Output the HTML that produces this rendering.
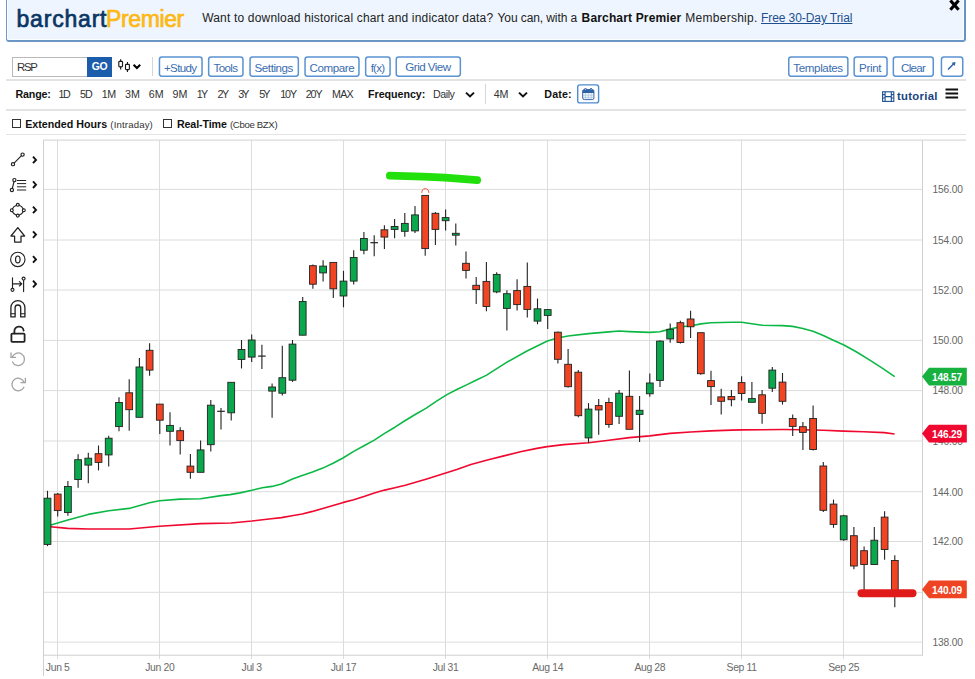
<!DOCTYPE html>
<html>
<head>
<meta charset="utf-8">
<title>RSP chart</title>
<style>
*{box-sizing:border-box;margin:0;padding:0}
html,body{width:975px;height:679px;overflow:hidden;background:#fff;font-family:"Liberation Sans",sans-serif;color:#222}
.abs{position:absolute}
.t{position:absolute;line-height:1;white-space:nowrap}
#banner{left:5.6px;top:-6px;width:960.6px;height:48px;background:#eef5fe;border:1px solid #6f99c6;border-right:2px solid #6593c3;border-bottom:2px solid #6a97c5;border-radius:3px;box-shadow:inset 0 0 0 1px #fbfdff}
#logo{left:16.5px;top:4.6px;font-size:23px;font-weight:normal;white-space:nowrap;line-height:28px}
#logo .b{color:#0b3664;letter-spacing:0.8px;-webkit-text-stroke:0.7px #0b3664}
#logo .p{color:#fdb813;letter-spacing:-0.38px;margin-left:-1.3px;-webkit-text-stroke:0.7px #fdb813}
.btn{position:absolute;top:56.5px;height:20px;border:1px solid #5e92cd;border-radius:3px;background:#fff}
.hl{position:absolute;left:6px;width:960px;height:2px;background:#e3e3e3}
.cb{position:absolute;width:8.6px;height:8.6px;border:1px solid #333;background:#fff;top:119px}
</style>
</head>
<body>
<div class="abs" id="banner"></div>
<div class="abs" id="logo"><span class="b">barchart</span><span class="p">Premier</span></div>
<svg class="abs" style="left:947px;top:0px" width="16" height="13" viewBox="0 0 16 13"><path d="M3.4,0.4 L11.6,9.8 M11.6,0.4 L3.4,9.8" stroke="#000" stroke-width="3.1" fill="none"/></svg>

<!-- toolbar row 1 -->
<div class="abs" style="left:12px;top:56.5px;width:76px;height:20px;border:1px solid #b9b9b9;border-right:none;background:#fff"></div>
<div class="abs" style="left:87.2px;top:56.5px;width:24.8px;height:20px;background:#1b5cab"></div>
<svg class="abs" style="left:117px;top:57px" width="26" height="18" viewBox="0 0 26 18">
 <g fill="none" stroke="#1a1a1a" stroke-width="1.15">
  <rect x="1.8" y="4.3" width="3.7" height="5.5" rx=".8"/><path d="M3.65,2.2 V4.3 M3.65,9.8 V12.4"/>
  <rect x="8.5" y="7.4" width="3.9" height="5.2" rx=".8"/><path d="M10.45,5 V7.4 M10.45,12.6 V15"/>
  <path d="M16.6,7.7 L19.9,11 L23.2,7.7" stroke="#000" stroke-width="2"/>
 </g>
</svg>
<div class="abs" style="left:152px;top:57px;width:1px;height:19px;background:#d6d6d6"></div>
<div class="btn" style="left:940.6px;width:22.8px;border:none;background:none"><svg width="12" height="12" viewBox="0 0 12 12" style="position:absolute;left:4.5px;top:3px"><path d="M3,9.5 L9,3.5" stroke="#2a5fa8" stroke-width="1.5" fill="none"/><path d="M10.5,2 L6.6,2.7 L9.8,5.9 Z" fill="#2a5fa8"/></svg></div>
<div class="hl" style="top:78.9px"></div>

<!-- range row -->
<svg class="abs" style="left:464px;top:90px" width="12" height="10" viewBox="0 0 12 10"><path d="M2,2.6 L6,6.4 L10,2.6" stroke="#111" stroke-width="2" fill="none"/></svg>
<div class="abs" style="left:485px;top:84px;width:1px;height:20px;background:#d6d6d6"></div>
<svg class="abs" style="left:516.6px;top:90px" width="12" height="10" viewBox="0 0 12 10"><path d="M2,2.6 L6,6.4 L10,2.6" stroke="#111" stroke-width="2" fill="none"/></svg>
<div class="abs" style="left:577px;top:84px;width:22.3px;height:19.8px;border:1px solid transparent;background:none">
 <svg width="13" height="14" viewBox="0 0 13 14" style="position:absolute;left:4.2px;top:1.8px"><rect x="0.7" y="2.6" width="11.2" height="10" rx="1.6" fill="#f3f7fc" stroke="#2e62a6" stroke-width="1"/><path d="M0.7,6 V4.2 Q0.7,2.6 2.3,2.6 H10.3 Q11.9,2.6 11.9,4.2 V6 Z" fill="#2e62a6"/><path d="M3.4,6 V12.4 M6.3,6 V12.4 M9.2,6 V12.4 M1,8.2 H11.6 M1,10.4 H11.6" stroke="#a9c0de" stroke-width=".7" fill="none"/><path d="M3.5,0.9 V3.4 M9.1,0.9 V3.4" stroke="#2e62a6" stroke-width="1.9" fill="none"/><path d="M3.5,1.6 V3 M9.1,1.6 V3" stroke="#dfe8f4" stroke-width=".7" fill="none"/></svg>
</div>
<svg class="abs" style="left:882px;top:91px" width="13" height="12" viewBox="0 0 13 12"><g fill="none" stroke="#1d4f91" stroke-width="1.1"><rect x="0.6" y="0.8" width="11.2" height="9.6"/><path d="M3.1,0.8 V10.4 M9.3,0.8 V10.4 M3.1,5.6 H9.3 M0.6,3.6 H3.1 M0.6,7 H3.1 M9.3,3.6 H11.8 M9.3,7 H11.8"/></g></svg>
<svg class="abs" style="left:945px;top:87px" width="14" height="13" viewBox="0 0 14 13"><path d="M0.5,2.6 H13.1 M0.5,6.6 H13.1 M0.5,10.5 H13.1" stroke="#111" stroke-width="2"/></svg>
<div class="hl" style="top:108.6px"></div>

<!-- checkbox row -->
<div class="cb" style="left:12.2px"></div>
<div class="cb" style="left:163.4px"></div>
<div class="hl" style="top:133.8px;height:1.6px"></div>

<div class="t" style="left:202.20px;top:11.94px;font-size:12px;font-weight:normal;color:#222;letter-spacing:0.176px;">Want to download historical chart and indicator data?</div>
<div class="t" style="left:497.50px;top:11.94px;font-size:12px;font-weight:normal;color:#222;letter-spacing:-0.091px;">You can, with a</div>
<div class="t" style="left:581.60px;top:11.94px;font-size:12px;font-weight:bold;color:#111;letter-spacing:0.152px;">Barchart Premier</div>
<div class="t" style="left:685.30px;top:11.94px;font-size:12px;font-weight:normal;color:#222;letter-spacing:0.268px;">Membership.</div>
<div class="t" style="left:761.00px;top:11.94px;font-size:12px;font-weight:normal;color:#1d4f91;letter-spacing:-0.078px;text-decoration:underline">Free 30-Day Trial</div>
<div class="t" style="left:17.10px;top:62.25px;font-size:11.4px;font-weight:normal;color:#333;letter-spacing:-1.362px;">RSP</div>
<div class="t" style="left:91.70px;top:62.40px;font-size:10.4px;font-weight:bold;color:#fff;letter-spacing:-0.282px;">GO</div>
<div class="t" style="left:164.00px;top:62.08px;font-size:11.6px;font-weight:normal;color:#3a6db0;letter-spacing:-0.684px;">+Study</div>
<div class="t" style="left:213.60px;top:62.08px;font-size:11.6px;font-weight:normal;color:#3a6db0;letter-spacing:-0.667px;">Tools</div>
<div class="t" style="left:254.60px;top:62.08px;font-size:11.6px;font-weight:normal;color:#3a6db0;letter-spacing:-0.456px;">Settings</div>
<div class="t" style="left:309.60px;top:62.08px;font-size:11.6px;font-weight:normal;color:#3a6db0;letter-spacing:-0.422px;">Compare</div>
<div class="t" style="left:370.70px;top:62.08px;font-size:11.6px;font-weight:normal;color:#3a6db0;letter-spacing:-0.793px;">f(x)</div>
<div class="t" style="left:405.30px;top:60.88px;font-size:11.6px;font-weight:normal;color:#3a6db0;letter-spacing:-0.521px;">Grid View</div>
<div class="t" style="left:793.30px;top:62.08px;font-size:11.6px;font-weight:normal;color:#3a6db0;letter-spacing:-0.380px;">Templates</div>
<div class="t" style="left:859.10px;top:62.08px;font-size:11.6px;font-weight:normal;color:#3a6db0;letter-spacing:-0.354px;">Print</div>
<div class="t" style="left:901.10px;top:62.08px;font-size:11.6px;font-weight:normal;color:#3a6db0;letter-spacing:-0.736px;">Clear</div>
<div class="t" style="left:15.60px;top:89.14px;font-size:10.7px;font-weight:bold;color:#111;letter-spacing:-0.193px;">Range:</div>
<div class="t" style="left:58.50px;top:89.14px;font-size:10.7px;font-weight:normal;color:#333;letter-spacing:-1.344px;">1D</div>
<div class="t" style="left:79.90px;top:89.14px;font-size:10.7px;font-weight:normal;color:#333;letter-spacing:-0.844px;">5D</div>
<div class="t" style="left:101.80px;top:89.14px;font-size:10.7px;font-weight:normal;color:#333;letter-spacing:-0.444px;">1M</div>
<div class="t" style="left:125.10px;top:89.14px;font-size:10.7px;font-weight:normal;color:#333;letter-spacing:-0.044px;">3M</div>
<div class="t" style="left:148.70px;top:89.14px;font-size:10.7px;font-weight:normal;color:#333;letter-spacing:0.156px;">6M</div>
<div class="t" style="left:172.60px;top:89.14px;font-size:10.7px;font-weight:normal;color:#333;letter-spacing:-0.144px;">9M</div>
<div class="t" style="left:196.70px;top:89.14px;font-size:10.7px;font-weight:normal;color:#333;letter-spacing:-1.644px;">1Y</div>
<div class="t" style="left:217.60px;top:89.14px;font-size:10.7px;font-weight:normal;color:#333;letter-spacing:-1.444px;">2Y</div>
<div class="t" style="left:238.20px;top:89.14px;font-size:10.7px;font-weight:normal;color:#333;letter-spacing:-1.844px;">3Y</div>
<div class="t" style="left:259.30px;top:89.14px;font-size:10.7px;font-weight:normal;color:#333;letter-spacing:-2.044px;">5Y</div>
<div class="t" style="left:280.20px;top:89.14px;font-size:10.7px;font-weight:normal;color:#333;letter-spacing:-1.044px;">10Y</div>
<div class="t" style="left:305.80px;top:89.14px;font-size:10.7px;font-weight:normal;color:#333;letter-spacing:-1.144px;">20Y</div>
<div class="t" style="left:332.00px;top:89.14px;font-size:10.7px;font-weight:normal;color:#333;letter-spacing:-0.716px;">MAX</div>
<div class="t" style="left:368.10px;top:89.14px;font-size:10.7px;font-weight:bold;color:#111;letter-spacing:-0.050px;">Frequency:</div>
<div class="t" style="left:433.00px;top:89.14px;font-size:10.7px;font-weight:normal;color:#333;letter-spacing:-0.453px;">Daily</div>
<div class="t" style="left:493.80px;top:89.14px;font-size:10.7px;font-weight:normal;color:#333;letter-spacing:-0.344px;">4M</div>
<div class="t" style="left:544.30px;top:89.14px;font-size:10.7px;font-weight:bold;color:#111;letter-spacing:0.134px;">Date:</div>
<div class="t" style="left:897.00px;top:91.23px;font-size:11.3px;font-weight:bold;color:#17457f;letter-spacing:0.308px;">tutorial</div>
<div class="t" style="left:25.20px;top:118.64px;font-size:10.7px;font-weight:bold;color:#111;letter-spacing:-0.001px;">Extended Hours</div>
<div class="t" style="left:110.30px;top:119.57px;font-size:9.6px;font-weight:normal;color:#333;letter-spacing:0.160px;">(Intraday)</div>
<div class="t" style="left:176.90px;top:118.64px;font-size:10.7px;font-weight:bold;color:#111;letter-spacing:-0.118px;">Real-Time</div>
<div class="t" style="left:230.00px;top:119.57px;font-size:9.6px;font-weight:normal;color:#333;letter-spacing:-0.339px;">(Cboe BZX)</div>

<!-- left tools -->
<svg class="abs" style="left:0;top:140px" width="44" height="260" viewBox="0 140 44 260">
<g fill="none" stroke="#222" stroke-width="1.15" stroke-linecap="round" stroke-linejoin="round">
 <!-- 1 line -->
 <path d="M14.1,163.1 L21.5,155.7"/><circle cx="13" cy="164.2" r="1.6" fill="#fff"/><circle cx="22.6" cy="154.6" r="1.6" fill="#fff"/>
 <!-- 2 fib-like -->
 <path d="M14,181.6 L12.3,188.5"/><circle cx="14.4" cy="180.1" r="1.6" fill="#fff"/><circle cx="11.9" cy="190" r="1.6" fill="#fff"/>
 <path d="M17.4,180.5 H25.8 M17.4,183.6 H25.8 M17.4,186.8 H25.8 M17.4,190 H25.8" stroke-width="1"/>
 <!-- 3 diamond -->
 <path d="M12.3,208.9 Q13.6,206 16.5,205.2 M19.1,205.2 Q22,206 23.3,208.9 M23.3,211.5 Q22,214.4 19.1,215.2 M16.5,215.2 Q13.6,214.4 12.3,211.5"/>
 <circle cx="17.8" cy="204.8" r="1.45"/><circle cx="23.8" cy="210.2" r="1.45"/><circle cx="17.8" cy="215.6" r="1.45"/><circle cx="11.8" cy="210.2" r="1.45"/>
 <!-- 4 arrow -->
 <path d="M17.8,227.6 L24.6,236 H21 V242 H14.6 V236 H11 Z" stroke-width="1.25"/>
 <!-- 5 circle 0 -->
 <circle cx="17.8" cy="259.4" r="7.2"/>
 <ellipse cx="17.8" cy="259.4" rx="2.3" ry="3.4" stroke-width="1.15"/>
 <!-- 6 measure -->
 <path d="M12.5,277.7 V288.2 M23.6,280.2 V291.6 M12.5,283.8 H21.8 M19.4,281.6 L21.8,283.8 L19.4,286"/>
 <circle cx="12.5" cy="289.8" r="1.5" fill="#fff"/><circle cx="23.6" cy="278.6" r="1.5" fill="#fff"/>
 <!-- 7 magnet -->
 <path d="M10.9,316.9 V307.6 A7,7 0 0 1 24.9,307.6 V316.9 H20.7 V307.8 A2.8,2.8 0 0 0 15.1,307.8 V316.9 Z" stroke-width="1.3"/>
 <path d="M10.9,313.7 H15.1 M20.7,313.7 H24.9" stroke-width="1.1"/>
 <!-- 8 lock -->
 <rect x="11.4" y="333.6" width="13.2" height="8.2" rx="0.8" stroke-width="1.8"/>
 <path d="M14.4,333.4 V331.2 A4.6,4.2 0 0 1 23.6,330.6" stroke-width="1.8"/>
</g>
<g fill="none" stroke="#111" stroke-width="1.9" stroke-linecap="butt" stroke-linejoin="miter">
 <path d="M33,156.6 L36,159.9 L33,163.2"/>
 <path d="M33,181.4 L36,184.7 L33,188"/>
 <path d="M33,206.6 L36,209.9 L33,213.2"/>
 <path d="M33,231.3 L36,234.6 L33,237.9"/>
 <path d="M33,256.1 L36,259.4 L33,262.7"/>
 <path d="M33,280.7 L36,284 L33,287.3"/>
</g>
<g fill="none" stroke="#a2a2a2" stroke-width="1.3" stroke-linecap="round" stroke-linejoin="round">
 <!-- undo -->
 <path d="M12.2,357.2 A6.3,6.3 0 1 1 12.5,362"/><path d="M11,353 V357.4 H15.4"/>
 <!-- redo -->
 <path d="M24.2,382.5 A6.3,6.3 0 1 0 23.9,387.3"/><path d="M25.4,378.3 V382.7 H21"/>
</g>
</svg>


<svg class="abs" style="left:0;top:0;font-family:'Liberation Sans',sans-serif" width="975" height="679" viewBox="0 0 975 679">
<line x1="57.5" y1="140" x2="57.5" y2="659" stroke="#dcdcdc" stroke-width="1"/>
<line x1="159.5" y1="140" x2="159.5" y2="659" stroke="#dcdcdc" stroke-width="1"/>
<line x1="251.5" y1="140" x2="251.5" y2="659" stroke="#dcdcdc" stroke-width="1"/>
<line x1="343.5" y1="140" x2="343.5" y2="659" stroke="#dcdcdc" stroke-width="1"/>
<line x1="445.5" y1="140" x2="445.5" y2="659" stroke="#dcdcdc" stroke-width="1"/>
<line x1="547.5" y1="140" x2="547.5" y2="659" stroke="#dcdcdc" stroke-width="1"/>
<line x1="649.5" y1="140" x2="649.5" y2="659" stroke="#dcdcdc" stroke-width="1"/>
<line x1="741.5" y1="140" x2="741.5" y2="659" stroke="#dcdcdc" stroke-width="1"/>
<line x1="843.5" y1="140" x2="843.5" y2="659" stroke="#dcdcdc" stroke-width="1"/>
<line x1="44" y1="642.1" x2="922" y2="642.1" stroke="#dcdcdc" stroke-width="1"/>
<line x1="44" y1="592.3" x2="922" y2="592.3" stroke="#dcdcdc" stroke-width="1"/>
<line x1="44" y1="541.5" x2="922" y2="541.5" stroke="#dcdcdc" stroke-width="1"/>
<line x1="44" y1="491.7" x2="922" y2="491.7" stroke="#dcdcdc" stroke-width="1"/>
<line x1="44" y1="441.0" x2="922" y2="441.0" stroke="#dcdcdc" stroke-width="1"/>
<line x1="44" y1="390.6" x2="922" y2="390.6" stroke="#dcdcdc" stroke-width="1"/>
<line x1="44" y1="340.4" x2="922" y2="340.4" stroke="#dcdcdc" stroke-width="1"/>
<line x1="44" y1="290.0" x2="922" y2="290.0" stroke="#dcdcdc" stroke-width="1"/>
<line x1="44" y1="240.0" x2="922" y2="240.0" stroke="#dcdcdc" stroke-width="1"/>
<line x1="44" y1="189.4" x2="922" y2="189.4" stroke="#dcdcdc" stroke-width="1"/>
<rect x="159.45" y="57.1" width="42.60" height="19.1" rx="2.4" fill="none" stroke="#5a92d2" stroke-width="1.5"/>
<rect x="208.65" y="57.1" width="34.30" height="19.1" rx="2.4" fill="none" stroke="#5a92d2" stroke-width="1.5"/>
<rect x="250.05" y="57.1" width="48.30" height="19.1" rx="2.4" fill="none" stroke="#5a92d2" stroke-width="1.5"/>
<rect x="305.05" y="57.1" width="53.90" height="19.1" rx="2.4" fill="none" stroke="#5a92d2" stroke-width="1.5"/>
<rect x="365.65" y="57.1" width="24.40" height="19.1" rx="2.4" fill="none" stroke="#5a92d2" stroke-width="1.5"/>
<rect x="396.25" y="57.1" width="64.10" height="19.1" rx="2.4" fill="none" stroke="#5a92d2" stroke-width="1.5"/>
<rect x="788.75" y="57.1" width="59.10" height="19.1" rx="2.4" fill="none" stroke="#5a92d2" stroke-width="1.5"/>
<rect x="854.15" y="57.1" width="32.90" height="19.1" rx="2.4" fill="none" stroke="#5a92d2" stroke-width="1.5"/>
<rect x="893.35" y="57.1" width="39.90" height="19.1" rx="2.4" fill="none" stroke="#5a92d2" stroke-width="1.5"/>
<rect x="941.45" y="57.1" width="21.30" height="19.1" rx="2.4" fill="none" stroke="#5a92d2" stroke-width="1.5"/>
<rect x="577.7" y="84.9" width="20.9" height="18" rx="2.2" fill="none" stroke="#4f8bd0" stroke-width="1.4"/>
<line x1="43.5" y1="140" x2="43.5" y2="676" stroke="#d0d0d0" stroke-width="1"/>
<line x1="922.5" y1="140" x2="922.5" y2="655" stroke="#d0d0d0" stroke-width="1"/>
<line x1="43" y1="655.2" x2="923" y2="655.2" stroke="#d0d0d0" stroke-width="1"/>
<line x1="43" y1="140.1" x2="966" y2="140.1" stroke="#dadada" stroke-width="1.4"/>
<path d="M47.6,526.1 L67.8,520.1 L88.2,514.4 L108.7,510.8 L129.1,508.4 L149.5,502.8 L159.6,500.7 L180.2,499.1 L200.6,498.7 L221.0,495.6 L230.0,494.6 L240.0,492.9 L251.9,490.3 L262.2,487.7 L272.0,486.4 L281.5,483.9 L291.9,479.2 L302.2,475.4 L312.5,472.0 L322.8,468.1 L333.1,463.2 L343.4,457.8 L353.7,451.4 L364.0,445.7 L374.3,440.1 L384.6,433.4 L394.9,427.2 L405.3,420.5 L415.6,414.3 L425.9,408.4 L436.2,401.4 L446.5,394.9 L456.8,389.5 L467.1,384.6 L476.0,380.2 L486.2,375.4 L506.6,362.4 L527.0,351.0 L547.4,341.0 L557.6,338.0 L568.0,336.0 L588.5,333.6 L608.9,331.9 L619.0,331.0 L629.3,331.6 L649.7,332.4 L659.8,331.7 L670.1,329.1 L680.2,326.8 L690.5,326.0 L700.8,323.9 L710.9,322.8 L731.3,322.3 L741.6,322.3 L751.8,323.7 L762.1,325.2 L782.5,325.6 L792.6,326.4 L802.9,328.5 L813.0,331.2 L823.3,335.6 L833.4,340.3 L843.9,345.0 L856.2,351.7 L869.4,359.9 L882.6,368.3 L894.7,376.6" fill="none" stroke="#0cb845" stroke-width="1.6" stroke-linejoin="round"/>
<path d="M47.6,526.5 L67.8,528.4 L88.2,529.0 L129.1,529.0 L159.6,526.3 L200.6,523.6 L231.1,523.0 L251.9,521.0 L271.2,518.7 L281.5,517.6 L291.9,515.8 L302.2,514.0 L312.5,511.4 L322.8,508.4 L333.1,505.5 L343.4,502.4 L353.7,499.8 L364.0,496.5 L374.3,492.9 L384.6,490.1 L394.9,487.7 L405.3,485.2 L415.6,482.3 L425.9,479.2 L436.2,475.9 L446.5,472.8 L456.8,469.5 L470.9,464.5 L487.4,460.0 L503.9,455.9 L520.4,451.8 L536.9,448.4 L547.2,446.6 L563.7,444.6 L588.5,442.7 L608.9,440.2 L629.3,437.6 L649.7,435.9 L670.1,433.4 L690.5,432.0 L710.9,430.9 L731.3,430.1 L741.6,429.9 L762.1,429.7 L782.5,429.5 L802.9,429.7 L823.3,430.3 L843.7,431.1 L863.7,431.8 L884.3,432.6 L894.6,434.0" fill="none" stroke="#f0082f" stroke-width="1.6" stroke-linejoin="round"/>
<line x1="47.5" y1="490.8" x2="47.5" y2="546.1" stroke="#222" stroke-width="1.1"/>
<rect x="44.1" y="498.2" width="6.8" height="46.2" fill="#0aa84c" stroke="#222" stroke-width="0.9"/>
<line x1="57.7" y1="492.9" x2="57.7" y2="516.6" stroke="#222" stroke-width="1.1"/>
<rect x="54.3" y="494.1" width="6.8" height="16.5" fill="#f04423" stroke="#222" stroke-width="0.9"/>
<line x1="67.9" y1="481.1" x2="67.9" y2="515.8" stroke="#222" stroke-width="1.1"/>
<rect x="64.5" y="486.5" width="6.8" height="26.0" fill="#0aa84c" stroke="#222" stroke-width="0.9"/>
<line x1="78.1" y1="454.3" x2="78.1" y2="487.7" stroke="#222" stroke-width="1.1"/>
<rect x="74.7" y="459.7" width="6.8" height="19.8" fill="#0aa84c" stroke="#222" stroke-width="0.9"/>
<line x1="88.3" y1="452.7" x2="88.3" y2="483.2" stroke="#222" stroke-width="1.1"/>
<rect x="84.9" y="458.2" width="6.8" height="6.9" fill="#0aa84c" stroke="#222" stroke-width="0.9"/>
<line x1="98.5" y1="445.5" x2="98.5" y2="470.4" stroke="#222" stroke-width="1.1"/>
<rect x="95.1" y="453.7" width="6.8" height="8.7" fill="#f04423" stroke="#222" stroke-width="0.9"/>
<line x1="108.7" y1="435.8" x2="108.7" y2="466.5" stroke="#222" stroke-width="1.1"/>
<rect x="105.3" y="438.2" width="6.8" height="16.7" fill="#0aa84c" stroke="#222" stroke-width="0.9"/>
<line x1="119.0" y1="397.3" x2="119.0" y2="431.3" stroke="#222" stroke-width="1.1"/>
<rect x="115.6" y="402.5" width="6.8" height="24.1" fill="#0aa84c" stroke="#222" stroke-width="0.9"/>
<line x1="129.2" y1="379.2" x2="129.2" y2="430.7" stroke="#222" stroke-width="1.1"/>
<rect x="125.8" y="392.8" width="6.8" height="16.9" fill="#f04423" stroke="#222" stroke-width="0.9"/>
<line x1="139.4" y1="358.1" x2="139.4" y2="417.3" stroke="#222" stroke-width="1.1"/>
<rect x="136.0" y="367.0" width="6.8" height="50.3" fill="#0aa84c" stroke="#222" stroke-width="0.9"/>
<line x1="149.6" y1="343.3" x2="149.6" y2="375.7" stroke="#222" stroke-width="1.1"/>
<rect x="146.2" y="350.3" width="6.8" height="19.8" fill="#f04423" stroke="#222" stroke-width="0.9"/>
<line x1="159.8" y1="404.1" x2="159.8" y2="434.0" stroke="#222" stroke-width="1.1"/>
<rect x="156.4" y="404.1" width="6.8" height="16.1" fill="#f04423" stroke="#222" stroke-width="0.9"/>
<line x1="170.0" y1="412.2" x2="170.0" y2="445.4" stroke="#222" stroke-width="1.1"/>
<rect x="166.6" y="425.4" width="6.8" height="5.9" fill="#0aa84c" stroke="#222" stroke-width="0.9"/>
<line x1="180.2" y1="427.2" x2="180.2" y2="454.6" stroke="#222" stroke-width="1.1"/>
<rect x="176.8" y="430.7" width="6.8" height="9.9" fill="#f04423" stroke="#222" stroke-width="0.9"/>
<line x1="190.4" y1="454.0" x2="190.4" y2="478.7" stroke="#222" stroke-width="1.1"/>
<rect x="187.0" y="466.1" width="6.8" height="6.2" fill="#f04423" stroke="#222" stroke-width="0.9"/>
<line x1="200.6" y1="440.6" x2="200.6" y2="472.3" stroke="#222" stroke-width="1.1"/>
<rect x="197.2" y="449.9" width="6.8" height="22.4" fill="#0aa84c" stroke="#222" stroke-width="0.9"/>
<line x1="210.8" y1="400.0" x2="210.8" y2="451.6" stroke="#222" stroke-width="1.1"/>
<rect x="207.4" y="405.2" width="6.8" height="39.5" fill="#0aa84c" stroke="#222" stroke-width="0.9"/>
<line x1="221.0" y1="408.0" x2="221.0" y2="429.4" stroke="#222" stroke-width="1.1"/>
<line x1="217.2" y1="411.3" x2="224.8" y2="411.3" stroke="#222" stroke-width="1.2"/>
<line x1="231.2" y1="382.3" x2="231.2" y2="420.4" stroke="#222" stroke-width="1.1"/>
<rect x="227.8" y="382.3" width="6.8" height="30.5" fill="#0aa84c" stroke="#222" stroke-width="0.9"/>
<line x1="241.5" y1="340.0" x2="241.5" y2="368.5" stroke="#222" stroke-width="1.1"/>
<rect x="238.1" y="349.5" width="6.8" height="9.9" fill="#0aa84c" stroke="#222" stroke-width="0.9"/>
<line x1="251.7" y1="334.4" x2="251.7" y2="362.1" stroke="#222" stroke-width="1.1"/>
<rect x="248.3" y="340.0" width="6.8" height="17.1" fill="#0aa84c" stroke="#222" stroke-width="0.9"/>
<line x1="261.9" y1="344.7" x2="261.9" y2="368.9" stroke="#222" stroke-width="1.1"/>
<line x1="258.1" y1="356.1" x2="265.7" y2="356.1" stroke="#222" stroke-width="1.2"/>
<line x1="272.1" y1="383.5" x2="272.1" y2="417.7" stroke="#222" stroke-width="1.1"/>
<rect x="268.7" y="387.0" width="6.8" height="4.1" fill="#0aa84c" stroke="#222" stroke-width="0.9"/>
<line x1="282.3" y1="345.8" x2="282.3" y2="395.5" stroke="#222" stroke-width="1.1"/>
<rect x="278.9" y="377.7" width="6.8" height="15.5" fill="#0aa84c" stroke="#222" stroke-width="0.9"/>
<line x1="292.5" y1="340.0" x2="292.5" y2="381.9" stroke="#222" stroke-width="1.1"/>
<rect x="289.1" y="344.1" width="6.8" height="36.1" fill="#0aa84c" stroke="#222" stroke-width="0.9"/>
<line x1="302.7" y1="297.0" x2="302.7" y2="335.2" stroke="#222" stroke-width="1.1"/>
<rect x="299.3" y="301.5" width="6.8" height="33.7" fill="#0aa84c" stroke="#222" stroke-width="0.9"/>
<line x1="312.9" y1="264.6" x2="312.9" y2="288.8" stroke="#222" stroke-width="1.1"/>
<rect x="309.5" y="265.7" width="6.8" height="18.5" fill="#f04423" stroke="#222" stroke-width="0.9"/>
<line x1="323.1" y1="260.3" x2="323.1" y2="281.5" stroke="#222" stroke-width="1.1"/>
<rect x="319.7" y="266.1" width="6.8" height="6.8" fill="#0aa84c" stroke="#222" stroke-width="0.9"/>
<line x1="333.3" y1="262.4" x2="333.3" y2="298.0" stroke="#222" stroke-width="1.1"/>
<rect x="329.9" y="262.4" width="6.8" height="26.4" fill="#f04423" stroke="#222" stroke-width="0.9"/>
<line x1="343.5" y1="270.8" x2="343.5" y2="307.3" stroke="#222" stroke-width="1.1"/>
<rect x="340.1" y="281.1" width="6.8" height="14.9" fill="#0aa84c" stroke="#222" stroke-width="0.9"/>
<line x1="353.7" y1="250.2" x2="353.7" y2="284.5" stroke="#222" stroke-width="1.1"/>
<rect x="350.3" y="257.5" width="6.8" height="23.6" fill="#0aa84c" stroke="#222" stroke-width="0.9"/>
<line x1="363.9" y1="232.0" x2="363.9" y2="254.2" stroke="#222" stroke-width="1.1"/>
<rect x="360.5" y="238.5" width="6.8" height="11.7" fill="#0aa84c" stroke="#222" stroke-width="0.9"/>
<line x1="374.2" y1="235.2" x2="374.2" y2="256.3" stroke="#222" stroke-width="1.1"/>
<line x1="370.4" y1="242.7" x2="378.0" y2="242.7" stroke="#222" stroke-width="1.2"/>
<line x1="384.4" y1="225.3" x2="384.4" y2="249.1" stroke="#222" stroke-width="1.1"/>
<rect x="381.0" y="229.8" width="6.8" height="7.3" fill="#f04423" stroke="#222" stroke-width="0.9"/>
<line x1="394.6" y1="219.1" x2="394.6" y2="238.2" stroke="#222" stroke-width="1.1"/>
<rect x="391.2" y="226.5" width="6.8" height="2.9" fill="#0aa84c" stroke="#222" stroke-width="0.9"/>
<line x1="404.8" y1="212.9" x2="404.8" y2="236.7" stroke="#222" stroke-width="1.1"/>
<rect x="401.4" y="223.4" width="6.8" height="7.9" fill="#0aa84c" stroke="#222" stroke-width="0.9"/>
<line x1="415.0" y1="206.1" x2="415.0" y2="233.1" stroke="#222" stroke-width="1.1"/>
<rect x="411.6" y="214.9" width="6.8" height="16.0" fill="#0aa84c" stroke="#222" stroke-width="0.9"/>
<line x1="425.2" y1="195.4" x2="425.2" y2="255.8" stroke="#222" stroke-width="1.1"/>
<rect x="421.8" y="195.4" width="6.8" height="53.2" fill="#f04423" stroke="#222" stroke-width="0.9"/>
<line x1="435.4" y1="211.9" x2="435.4" y2="244.9" stroke="#222" stroke-width="1.1"/>
<rect x="432.0" y="213.3" width="6.8" height="16.1" fill="#f04423" stroke="#222" stroke-width="0.9"/>
<line x1="445.6" y1="209.6" x2="445.6" y2="230.4" stroke="#222" stroke-width="1.1"/>
<rect x="442.2" y="217.6" width="6.8" height="3.1" fill="#0aa84c" stroke="#222" stroke-width="0.9"/>
<line x1="455.8" y1="223.6" x2="455.8" y2="245.4" stroke="#222" stroke-width="1.1"/>
<rect x="452.4" y="233.3" width="6.8" height="1.9" fill="#0aa84c" stroke="#222" stroke-width="0.9"/>
<line x1="466.0" y1="251.6" x2="466.0" y2="278.6" stroke="#222" stroke-width="1.1"/>
<rect x="462.6" y="263.3" width="6.8" height="7.1" fill="#f04423" stroke="#222" stroke-width="0.9"/>
<line x1="476.2" y1="277.0" x2="476.2" y2="304.1" stroke="#222" stroke-width="1.1"/>
<rect x="472.8" y="285.3" width="6.8" height="4.3" fill="#f04423" stroke="#222" stroke-width="0.9"/>
<line x1="486.4" y1="262.0" x2="486.4" y2="311.2" stroke="#222" stroke-width="1.1"/>
<rect x="483.0" y="281.4" width="6.8" height="25.1" fill="#f04423" stroke="#222" stroke-width="0.9"/>
<line x1="496.7" y1="272.3" x2="496.7" y2="293.3" stroke="#222" stroke-width="1.1"/>
<rect x="493.3" y="274.4" width="6.8" height="17.5" fill="#0aa84c" stroke="#222" stroke-width="0.9"/>
<line x1="506.9" y1="290.2" x2="506.9" y2="330.4" stroke="#222" stroke-width="1.1"/>
<rect x="503.5" y="293.7" width="6.8" height="14.7" fill="#0aa84c" stroke="#222" stroke-width="0.9"/>
<line x1="517.1" y1="279.3" x2="517.1" y2="310.4" stroke="#222" stroke-width="1.1"/>
<rect x="513.7" y="290.6" width="6.8" height="14.0" fill="#f04423" stroke="#222" stroke-width="0.9"/>
<line x1="527.3" y1="262.4" x2="527.3" y2="317.4" stroke="#222" stroke-width="1.1"/>
<rect x="523.9" y="286.4" width="6.8" height="23.0" fill="#f04423" stroke="#222" stroke-width="0.9"/>
<line x1="537.5" y1="298.5" x2="537.5" y2="324.2" stroke="#222" stroke-width="1.1"/>
<rect x="534.1" y="308.8" width="6.8" height="12.3" fill="#0aa84c" stroke="#222" stroke-width="0.9"/>
<line x1="547.7" y1="309.6" x2="547.7" y2="329.0" stroke="#222" stroke-width="1.1"/>
<rect x="544.3" y="309.6" width="6.8" height="5.8" fill="#0aa84c" stroke="#222" stroke-width="0.9"/>
<line x1="557.9" y1="331.4" x2="557.9" y2="363.4" stroke="#222" stroke-width="1.1"/>
<rect x="554.5" y="332.2" width="6.8" height="27.1" fill="#f04423" stroke="#222" stroke-width="0.9"/>
<line x1="568.1" y1="349.0" x2="568.1" y2="387.6" stroke="#222" stroke-width="1.1"/>
<rect x="564.7" y="364.3" width="6.8" height="22.4" fill="#f04423" stroke="#222" stroke-width="0.9"/>
<line x1="578.3" y1="370.1" x2="578.3" y2="417.3" stroke="#222" stroke-width="1.1"/>
<rect x="574.9" y="372.2" width="6.8" height="43.5" fill="#f04423" stroke="#222" stroke-width="0.9"/>
<line x1="588.5" y1="403.1" x2="588.5" y2="443.1" stroke="#222" stroke-width="1.1"/>
<rect x="585.1" y="409.1" width="6.8" height="28.8" fill="#0aa84c" stroke="#222" stroke-width="0.9"/>
<line x1="598.7" y1="399.0" x2="598.7" y2="434.8" stroke="#222" stroke-width="1.1"/>
<rect x="595.3" y="405.6" width="6.8" height="4.3" fill="#f04423" stroke="#222" stroke-width="0.9"/>
<line x1="608.9" y1="397.7" x2="608.9" y2="427.8" stroke="#222" stroke-width="1.1"/>
<rect x="605.5" y="402.5" width="6.8" height="22.0" fill="#f04423" stroke="#222" stroke-width="0.9"/>
<line x1="619.1" y1="390.1" x2="619.1" y2="424.1" stroke="#222" stroke-width="1.1"/>
<rect x="615.7" y="393.2" width="6.8" height="23.1" fill="#0aa84c" stroke="#222" stroke-width="0.9"/>
<line x1="629.4" y1="370.5" x2="629.4" y2="429.3" stroke="#222" stroke-width="1.1"/>
<rect x="626.0" y="396.3" width="6.8" height="33.0" fill="#f04423" stroke="#222" stroke-width="0.9"/>
<line x1="639.6" y1="395.9" x2="639.6" y2="442.1" stroke="#222" stroke-width="1.1"/>
<rect x="636.2" y="410.3" width="6.8" height="4.1" fill="#0aa84c" stroke="#222" stroke-width="0.9"/>
<line x1="649.8" y1="373.6" x2="649.8" y2="396.7" stroke="#222" stroke-width="1.1"/>
<rect x="646.4" y="383.0" width="6.8" height="10.8" fill="#0aa84c" stroke="#222" stroke-width="0.9"/>
<line x1="660.0" y1="340.2" x2="660.0" y2="387.0" stroke="#222" stroke-width="1.1"/>
<rect x="656.6" y="341.1" width="6.8" height="39.3" fill="#0aa84c" stroke="#222" stroke-width="0.9"/>
<line x1="670.2" y1="323.5" x2="670.2" y2="342.8" stroke="#222" stroke-width="1.1"/>
<rect x="666.8" y="329.3" width="6.8" height="9.6" fill="#0aa84c" stroke="#222" stroke-width="0.9"/>
<line x1="680.4" y1="320.8" x2="680.4" y2="343.6" stroke="#222" stroke-width="1.1"/>
<rect x="677.0" y="322.7" width="6.8" height="19.8" fill="#f04423" stroke="#222" stroke-width="0.9"/>
<line x1="690.6" y1="310.7" x2="690.6" y2="338.0" stroke="#222" stroke-width="1.1"/>
<rect x="687.2" y="319.0" width="6.8" height="7.8" fill="#f04423" stroke="#222" stroke-width="0.9"/>
<line x1="700.8" y1="332.7" x2="700.8" y2="374.7" stroke="#222" stroke-width="1.1"/>
<rect x="697.4" y="332.7" width="6.8" height="41.0" fill="#f04423" stroke="#222" stroke-width="0.9"/>
<line x1="711.0" y1="370.8" x2="711.0" y2="405.0" stroke="#222" stroke-width="1.1"/>
<rect x="707.6" y="380.6" width="6.8" height="6.0" fill="#f04423" stroke="#222" stroke-width="0.9"/>
<line x1="721.2" y1="388.7" x2="721.2" y2="414.5" stroke="#222" stroke-width="1.1"/>
<rect x="717.8" y="396.9" width="6.8" height="4.4" fill="#f04423" stroke="#222" stroke-width="0.9"/>
<line x1="731.4" y1="390.0" x2="731.4" y2="406.2" stroke="#222" stroke-width="1.1"/>
<rect x="728.0" y="396.5" width="6.8" height="3.2" fill="#f04423" stroke="#222" stroke-width="0.9"/>
<line x1="741.6" y1="376.3" x2="741.6" y2="400.4" stroke="#222" stroke-width="1.1"/>
<rect x="738.2" y="382.6" width="6.8" height="10.9" fill="#f04423" stroke="#222" stroke-width="0.9"/>
<line x1="751.9" y1="381.9" x2="751.9" y2="402.3" stroke="#222" stroke-width="1.1"/>
<rect x="748.5" y="398.6" width="6.8" height="3.7" fill="#0aa84c" stroke="#222" stroke-width="0.9"/>
<line x1="762.1" y1="390.1" x2="762.1" y2="423.7" stroke="#222" stroke-width="1.1"/>
<rect x="758.7" y="394.8" width="6.8" height="18.6" fill="#f04423" stroke="#222" stroke-width="0.9"/>
<line x1="772.3" y1="367.0" x2="772.3" y2="392.0" stroke="#222" stroke-width="1.1"/>
<rect x="768.9" y="370.1" width="6.8" height="18.1" fill="#0aa84c" stroke="#222" stroke-width="0.9"/>
<line x1="782.5" y1="373.0" x2="782.5" y2="404.6" stroke="#222" stroke-width="1.1"/>
<rect x="779.1" y="382.1" width="6.8" height="19.2" fill="#f04423" stroke="#222" stroke-width="0.9"/>
<line x1="792.7" y1="414.6" x2="792.7" y2="436.1" stroke="#222" stroke-width="1.1"/>
<rect x="789.3" y="418.5" width="6.8" height="7.9" fill="#f04423" stroke="#222" stroke-width="0.9"/>
<line x1="802.9" y1="422.1" x2="802.9" y2="450.1" stroke="#222" stroke-width="1.1"/>
<rect x="799.5" y="426.7" width="6.8" height="5.7" fill="#f04423" stroke="#222" stroke-width="0.9"/>
<line x1="813.1" y1="405.6" x2="813.1" y2="450.5" stroke="#222" stroke-width="1.1"/>
<rect x="809.7" y="418.5" width="6.8" height="31.0" fill="#f04423" stroke="#222" stroke-width="0.9"/>
<line x1="823.3" y1="461.9" x2="823.3" y2="512.0" stroke="#222" stroke-width="1.1"/>
<rect x="819.9" y="466.0" width="6.8" height="44.3" fill="#f04423" stroke="#222" stroke-width="0.9"/>
<line x1="833.5" y1="499.6" x2="833.5" y2="527.8" stroke="#222" stroke-width="1.1"/>
<rect x="830.1" y="504.1" width="6.8" height="20.3" fill="#f04423" stroke="#222" stroke-width="0.9"/>
<line x1="843.7" y1="514.7" x2="843.7" y2="540.8" stroke="#222" stroke-width="1.1"/>
<rect x="840.3" y="515.8" width="6.8" height="24.0" fill="#0aa84c" stroke="#222" stroke-width="0.9"/>
<line x1="853.9" y1="526.9" x2="853.9" y2="569.3" stroke="#222" stroke-width="1.1"/>
<rect x="850.5" y="535.7" width="6.8" height="30.3" fill="#f04423" stroke="#222" stroke-width="0.9"/>
<line x1="864.1" y1="546.6" x2="864.1" y2="590.0" stroke="#222" stroke-width="1.1"/>
<rect x="860.7" y="550.7" width="6.8" height="13.8" fill="#f04423" stroke="#222" stroke-width="0.9"/>
<line x1="874.3" y1="527.0" x2="874.3" y2="564.5" stroke="#222" stroke-width="1.1"/>
<rect x="870.9" y="540.2" width="6.8" height="24.3" fill="#0aa84c" stroke="#222" stroke-width="0.9"/>
<line x1="884.6" y1="511.3" x2="884.6" y2="559.8" stroke="#222" stroke-width="1.1"/>
<rect x="881.2" y="517.1" width="6.8" height="32.4" fill="#f04423" stroke="#222" stroke-width="0.9"/>
<line x1="894.8" y1="555.2" x2="894.8" y2="607.2" stroke="#222" stroke-width="1.1"/>
<rect x="891.4" y="560.5" width="6.8" height="31.5" fill="#f04423" stroke="#222" stroke-width="0.9"/>
<path d="M389.8,175.7 L423,176.6 L445.2,177.7 L477.2,180.1" fill="none" stroke="#22e00c" stroke-width="7.7" stroke-linecap="round" stroke-linejoin="round"/>
<path d="M861.5,593.2 L912.5,593.2" fill="none" stroke="#e01a1a" stroke-width="8" stroke-linecap="round"/>
<path d="M421.8,192.9 A3.5,4.2 0 0 1 428.8,192.9" fill="none" stroke="#f0553a" stroke-width="1"/>
<text x="932.4" y="645.9" font-size="10.2" fill="#666" textLength="30.6" lengthAdjust="spacing">138.00</text>
<text x="932.4" y="596.1" font-size="10.2" fill="#666" textLength="30.6" lengthAdjust="spacing">140.00</text>
<text x="932.4" y="545.3" font-size="10.2" fill="#666" textLength="30.6" lengthAdjust="spacing">142.00</text>
<text x="932.4" y="495.5" font-size="10.2" fill="#666" textLength="30.6" lengthAdjust="spacing">144.00</text>
<text x="932.4" y="444.8" font-size="10.2" fill="#666" textLength="30.6" lengthAdjust="spacing">146.00</text>
<text x="932.4" y="394.4" font-size="10.2" fill="#666" textLength="30.6" lengthAdjust="spacing">148.00</text>
<text x="932.4" y="344.2" font-size="10.2" fill="#666" textLength="30.6" lengthAdjust="spacing">150.00</text>
<text x="932.4" y="293.8" font-size="10.2" fill="#666" textLength="30.6" lengthAdjust="spacing">152.00</text>
<text x="932.4" y="243.8" font-size="10.2" fill="#666" textLength="30.6" lengthAdjust="spacing">154.00</text>
<text x="932.4" y="193.2" font-size="10.2" fill="#666" textLength="30.6" lengthAdjust="spacing">156.00</text>
<text x="57.7" y="671.0" font-size="10.4" fill="#6a6a6a" text-anchor="middle" letter-spacing="-0.35">Jun 5</text>
<text x="159.8" y="671.0" font-size="10.4" fill="#6a6a6a" text-anchor="middle" letter-spacing="-0.35">Jun 20</text>
<text x="251.7" y="671.0" font-size="10.4" fill="#6a6a6a" text-anchor="middle" letter-spacing="-0.35">Jul 3</text>
<text x="343.5" y="671.0" font-size="10.4" fill="#6a6a6a" text-anchor="middle" letter-spacing="-0.35">Jul 17</text>
<text x="445.6" y="671.0" font-size="10.4" fill="#6a6a6a" text-anchor="middle" letter-spacing="-0.35">Jul 31</text>
<text x="547.7" y="671.0" font-size="10.4" fill="#6a6a6a" text-anchor="middle" letter-spacing="-0.35">Aug 14</text>
<text x="649.8" y="671.0" font-size="10.4" fill="#6a6a6a" text-anchor="middle" letter-spacing="-0.35">Aug 28</text>
<text x="741.6" y="671.0" font-size="10.4" fill="#6a6a6a" text-anchor="middle" letter-spacing="-0.35">Sep 11</text>
<text x="843.7" y="671.0" font-size="10.4" fill="#6a6a6a" text-anchor="middle" letter-spacing="-0.35">Sep 25</text>
<path d="M922,376.6 L929,367.8 L966.8,367.8 L966.8,385.40000000000003 L929,385.40000000000003 Z" fill="#17b13f"/><text x="932.1" y="380.7" font-size="10.1" font-weight="bold" fill="#fff" textLength="30.1" lengthAdjust="spacing">148.57</text>
<path d="M922,433.6 L929,424.8 L966.8,424.8 L966.8,442.40000000000003 L929,442.40000000000003 Z" fill="#ef0830"/><text x="932.1" y="437.7" font-size="10.1" font-weight="bold" fill="#fff" textLength="30.1" lengthAdjust="spacing">146.29</text>
<path d="M922,589.4 L929,580.6 L966.8,580.6 L966.8,598.1999999999999 L929,598.1999999999999 Z" fill="#ef4423"/><text x="932.1" y="593.5" font-size="10.1" font-weight="bold" fill="#fff" textLength="30.1" lengthAdjust="spacing">140.09</text>
</svg>
</body>
</html>
